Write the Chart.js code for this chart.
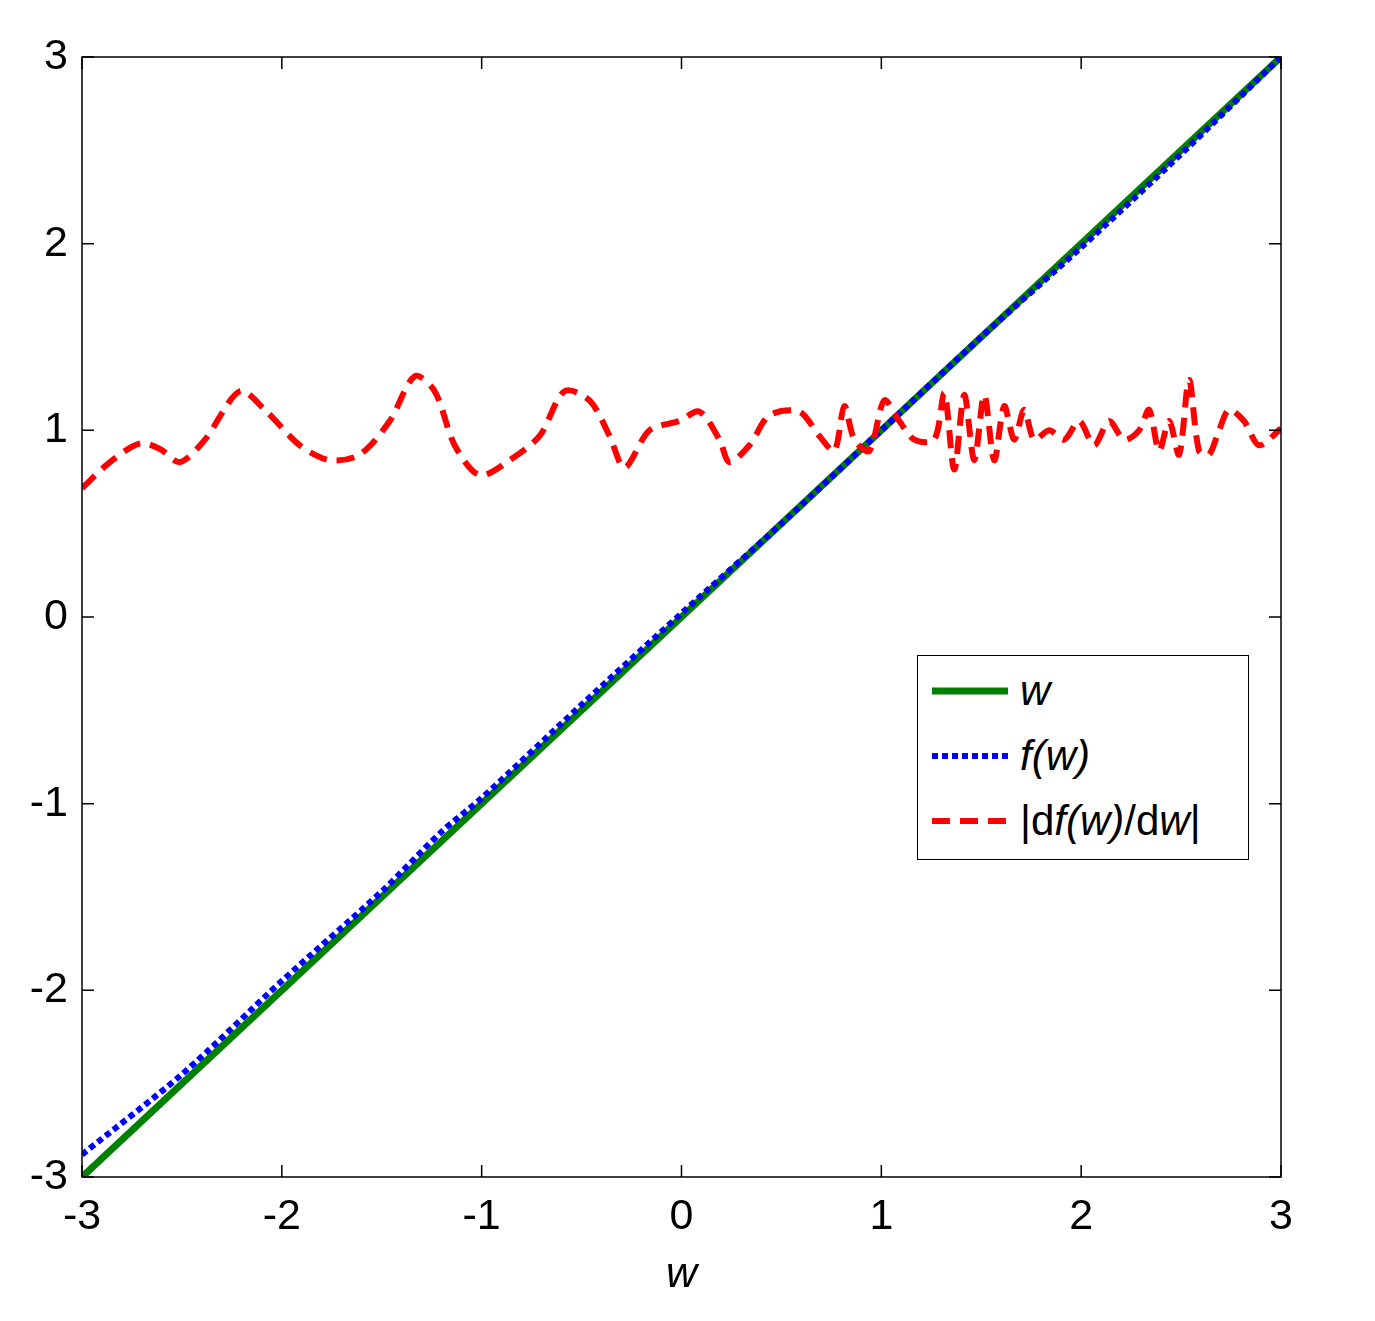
<!DOCTYPE html>
<html>
<head>
<meta charset="utf-8">
<script src="https://cdn.jsdelivr.net/npm/chart.js@4"></script>
<style>
  html, body { margin: 0; padding: 0; background: #fff; }
  #wrap { position: relative; width: 1375px; height: 1321px; }
  #legend {
    position: absolute; left: 917px; top: 655px; width: 332px; height: 205px;
    border: 1.5px solid #000; background: #fff; box-sizing: border-box;
    font-family: "Liberation Sans", Arial, sans-serif; font-size: 42px;
  }
  .row { position: absolute; left: 14px; height: 50px; display: flex; align-items: center; }
  .row svg { margin-right: 12px; }
</style>
</head>
<body>
<div id="wrap">
  <canvas id="chart" width="1375" height="1321"></canvas>
  <div id="legend">
    <div class="row" style="top:10px"><svg width="76" height="10"><line x1="0" y1="5" x2="76" y2="5" stroke="#008000" stroke-width="7"/></svg><i>w</i></div>
    <div class="row" style="top:75px"><svg width="76" height="10"><line x1="0" y1="5" x2="76" y2="5" stroke="#0000ff" stroke-width="6" stroke-dasharray="6,4"/></svg><i>f(w)</i></div>
    <div class="row" style="top:140px"><svg width="76" height="10"><line x1="0" y1="5" x2="76" y2="5" stroke="#ff0000" stroke-width="6" stroke-dasharray="18,10"/></svg>|d<i>f(w)</i>/d<i>w</i>|</div>
  </div>
</div>
<script>
// ── data ──
const xTicks = [-3, -2, -1, 0, 1, 2, 3];
const wLine = [{ x: -3, y: -3 }, { x: 3, y: 3 }];
const fX = [-3, -2.5, -2, -1.5, -1.2, -1, -0.5, 0, 0.5, 1, 1.5, 2, 2.5, 3];
const fY = [-2.88, -2.45, -1.95, -1.47, -1.15, -0.97, -0.47, 0.02, 0.5, 1.0, 1.5, 1.98, 2.48, 3];
const dX = [-3, -2.86, -2.71, -2.61, -2.51, -2.385, -2.21, -2.085, -1.91, -1.76, -1.61, -1.46, -1.335, -1.235, -1.135, -1.01,
  -0.86, -0.71, -0.585, -0.46, -0.36, -0.285, -0.16, -0.01, 0.09, 0.19, 0.24, 0.34, 0.44, 0.59, 0.69, 0.765, 0.815, 0.865,
  0.94, 1.015, 1.09, 1.165, 1.265, 1.315, 1.365, 1.415, 1.465, 1.515, 1.565, 1.615, 1.665, 1.715, 1.765, 1.84, 1.915, 1.99,
  2.065, 2.14, 2.215, 2.29, 2.34, 2.39, 2.44, 2.49, 2.54, 2.59, 2.64, 2.69, 2.74, 2.815, 2.89, 3];
const dY = [0.69, 0.83, 0.93, 0.90, 0.83, 0.95, 1.21, 1.11, 0.92, 0.84, 0.87, 1.05, 1.29, 1.21, 0.92, 0.76,
  0.84, 0.97, 1.21, 1.16, 0.97, 0.80, 1.0, 1.05, 1.10, 0.95, 0.83, 0.92, 1.08, 1.10, 0.97, 0.89, 1.13, 0.95,
  0.89, 1.16, 1.05, 0.95, 0.95, 1.20, 0.79, 1.19, 0.84, 1.19, 0.84, 1.13, 0.95, 1.11, 0.95, 1.0, 0.95, 1.05,
  0.92, 1.05, 0.95, 1.0, 1.11, 0.89, 1.05, 0.87, 1.27, 0.89, 0.87, 1.0, 1.11, 1.05, 0.92, 1.01];

const zip = (xs, ys) => xs.map((x, i) => ({ x: x, y: ys[i] }));
const font = { family: "'Liberation Sans', Arial, sans-serif", size: 43 };

// box + inward ticks on all four sides
const boxTicks = {
    id: "boxTicks",
    afterDraw(chart) {
        const { ctx, chartArea: a, scales } = chart;
        ctx.save();
        ctx.strokeStyle = "#000";
        ctx.lineWidth = 1.5;
        ctx.strokeRect(a.left, a.top, a.right - a.left, a.bottom - a.top);
        ctx.beginPath();
        xTicks.forEach((t) => {
            const px = scales.x.getPixelForValue(t);
            ctx.moveTo(px, a.bottom); ctx.lineTo(px, a.bottom - 12);
            ctx.moveTo(px, a.top); ctx.lineTo(px, a.top + 12);
            const py = scales.y.getPixelForValue(t);
            ctx.moveTo(a.left, py); ctx.lineTo(a.left + 12, py);
            ctx.moveTo(a.right, py); ctx.lineTo(a.right - 12, py);
        });
        ctx.stroke();
        ctx.restore();
    },
};

new Chart(document.getElementById("chart"), {
    type: "scatter",
    data: {
        datasets: [
            { data: wLine, showLine: true, borderColor: "#008000", borderWidth: 7, pointRadius: 0, order: 3 },
            { data: zip(fX, fY), showLine: true, borderColor: "#0000ff", borderWidth: 6, borderDash: [6, 4], pointRadius: 0, tension: 0.3, order: 2 },
            { data: zip(dX, dY), showLine: true, borderColor: "#ff0000", borderWidth: 6, borderDash: [18, 10], pointRadius: 0, tension: 0.3, order: 1 },
        ],
    },
    options: {
        responsive: false,
        animation: false,
        layout: { padding: { top: 57, right: 94, left: 0, bottom: 0 } },
        plugins: { legend: { display: false }, tooltip: { enabled: false } },
        scales: {
            x: {
                min: -3, max: 3,
                afterBuildTicks: (s) => { s.ticks = xTicks.map((v) => ({ value: v })); },
                afterFit: (s) => { s.height = 144; },
                grid: { display: false },
                border: { display: false },
                ticks: { font: font, color: "#000", padding: 6 },
                title: { display: true, text: "w", font: { ...font, style: "italic" }, color: "#000", padding: { top: 0, bottom: 20 } },
            },
            y: {
                min: -3, max: 3,
                afterBuildTicks: (s) => { s.ticks = xTicks.map((v) => ({ value: v })); },
                afterFit: (s) => { s.width = 82; },
                grid: { display: false },
                border: { display: false },
                ticks: { font: font, color: "#000", padding: 6 },
            },
        },
    },
    plugins: [boxTicks],
});
</script>
</body>
</html>
